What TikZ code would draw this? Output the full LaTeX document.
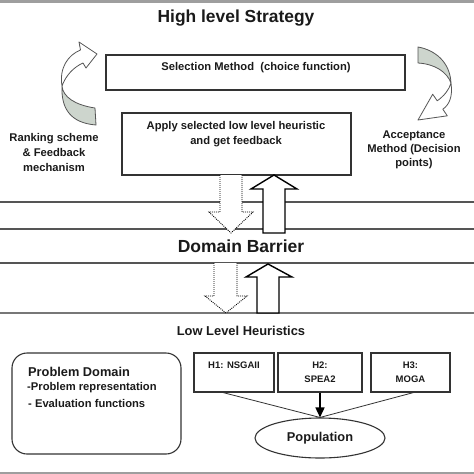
\documentclass[tikz,border=0pt]{standalone}
\usepackage{fontspec}
\setmainfont{Liberation Sans}
\usetikzlibrary{shapes.geometric,arrows.meta,calc}
\definecolor{ink}{HTML}{1A1A1A}
\definecolor{edge}{HTML}{333333}
\definecolor{rule}{HTML}{555555}
\definecolor{ribfill}{RGB}{205,213,205}
\definecolor{bar}{HTML}{9E9E9E}
\begin{document}
\begin{tikzpicture}[x=1pt,y=-1pt,
  box/.style={draw=edge, line width=1.1pt, fill=white, inner sep=0pt},
  txt/.style={text=ink, font=\bfseries\fontsize{11.2}{15}\selectfont, inner sep=0pt, align=center},
  big/.style={font=\bfseries\fontsize{17.5}{20}\selectfont},
  mid/.style={font=\bfseries\fontsize{12.8}{16}\selectfont},
  small/.style={font=\bfseries\fontsize{9.5}{14}\selectfont},
  hrule/.style={draw=rule, line width=1.2pt},
  dotarrow/.style={draw=black, fill=white, line width=0.9pt, dash pattern=on 0.9pt off 1.1pt},
  blockarrow/.style={draw=black, line width=1.4pt, fill=white, line join=miter},
  ribbon/.style={draw=rule, line width=0.8pt, line join=round},
  conn/.style={draw=edge, line width=0.8pt}]
\useasboundingbox (0,0) rectangle (474,474);
\fill[white] (0,0) rectangle (474,474);
\fill[bar] (0,0) rectangle (474,2.5);
\fill[bar] (0,471.5) rectangle (474,474);

% title
\node[txt, big, font=\bfseries\fontsize{17.4}{20}\selectfont] (title) at (236,18) {High level Strategy};

% horizontal rules
\draw[hrule] (0,202) -- (474,202);
\draw[hrule] (0,229) -- (474,229);
\draw[hrule] (0,263) -- (474,263);
\draw[hrule, draw=rule!80] (0,313) -- (474,313);

% boxes of the high level
\node[box, minimum width=299, minimum height=35] (sel) at (255.5,72.5) {};
\node[txt] (selt) at (256,68) {Selection Method\ \ (choice function)};
\node[box, minimum width=229, minimum height=62] (apply) at (236.5,144) {};
\node[txt] (applyt) at (236,134.5) {Apply selected low level heuristic\\and get feedback};

% side labels
\node[txt] (rank) at (54,152) {Ranking scheme\\\& Feedback\\mechanism};
\node[txt, font=\bfseries\fontsize{11.2}{14}\selectfont] (accept) at (414,150) {Acceptance\\Method (Decision\\points)};

% left ribbon arrow
\fill[ribfill] (95,108) .. controls (75,105) and (63,97) .. (62,86)
  .. controls (61,108) and (70,123) .. (96,125) -- cycle;
\draw[ribbon] (95,108) .. controls (75,105) and (63,97) .. (62,86)
  .. controls (61,108) and (70,123) .. (96,125) -- cycle;
\draw[ribbon, fill=white] (62,86) .. controls (59,68) and (68,55) .. (80.5,50)
  -- (79,42) -- (97,54) -- (86,68) -- (83,63)
  .. controls (74,67) and (66,75) .. (62,86) -- cycle;

% right ribbon arrow
\fill[ribfill] (418,47) .. controls (435,50) and (450,62) .. (451,83)
  .. controls (447,72) and (435,64) .. (418,63) -- cycle;
\draw[ribbon] (418,47) .. controls (435,50) and (450,62) .. (451,83)
  .. controls (447,72) and (435,64) .. (418,63) -- cycle;
\draw[ribbon, fill=white] (451,83) .. controls (453,97) and (449,105) .. (442.8,109.2)
  -- (447.3,115.8) -- (418,120) -- (432.7,94.2) -- (437.2,100.8)
  .. controls (444,96) and (449,90) .. (451,83) -- cycle;

% block arrows, upper
\draw[dotarrow] (220,175) -- (220,212) -- (209,212) -- (231,233) -- (253,212) -- (242,212) -- (242,175);
\draw[blockarrow] (263,233) -- (263,189) -- (251,189) -- (274,175) -- (297,189) -- (285,189) -- (285,233) -- cycle;

% domain barrier
\node[txt, big] (barrier) at (241,246) {Domain Barrier};

% block arrows, lower
\draw[dotarrow] (214,263) -- (214,296) -- (205,296) -- (226,313) -- (247,296) -- (237,296) -- (237,263);
\draw[blockarrow] (257,313) -- (257,277) -- (246,277) -- (268,264) -- (292,277) -- (279,277) -- (279,313) -- cycle;

% low level
\node[txt, font=\bfseries\fontsize{12.9}{16}\selectfont] (llh) at (241,331) {Low Level Heuristics};

\node[box, rounded corners=15pt, minimum width=169, minimum height=101] (pd) at (96.5,403.5) {};
\node[txt, mid, anchor=west] (pdt) at (28,372) {Problem Domain};
\node[txt, anchor=west] (pd1) at (27,388) {-Problem representation};
\node[txt, anchor=west] (pd2) at (28,403) {- Evaluation functions};

\node[box, minimum width=80, minimum height=39] (h1) at (234,372.5) {};
\node[box, minimum width=84, minimum height=39] (h2) at (320,372.5) {};
\node[box, minimum width=79, minimum height=39] (h3) at (410.5,372.5) {};
\node[txt, small] (h1t) at (234,365) {H1: NSGAII};
\node[txt, small] (h2t) at (320,372) {H2:\\SPEA2};
\node[txt, small] (h3t) at (410.5,372) {H3:\\MOGA};

\node[draw=edge, line width=1.1pt, ellipse, minimum width=130, minimum height=40, inner sep=0pt, txt, mid] (pop) at (320,438) {Population};

\draw[conn] ([xshift=-11pt]h1.south) -- (pop.north);
\draw[conn] ([xshift=3pt]h3.south) -- (pop.north);
\draw[draw=black, line width=1.6pt, -{Triangle[length=10pt,width=9pt]}] (h2.south) -- (pop.north);
\end{tikzpicture}
\end{document}
